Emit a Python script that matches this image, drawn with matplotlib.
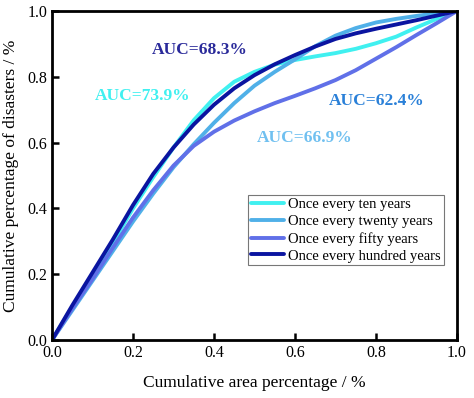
import matplotlib.pyplot as plt

plt.rcParams['font.family'] = ['Liberation Serif', 'DejaVu Serif']

# cumulative area share (x) and cumulative disaster share (y) for each return period
x_vals = [0.0, 0.05, 0.1, 0.15, 0.2, 0.25, 0.3, 0.35, 0.4, 0.45, 0.5, 0.55, 0.6, 0.65, 0.7, 0.75, 0.8, 0.85, 0.9, 0.95, 1.0]
ten_years = [0.0, 0.1, 0.195, 0.295, 0.4, 0.495, 0.585, 0.668, 0.735, 0.785, 0.815, 0.837, 0.851, 0.862, 0.872, 0.885, 0.902, 0.922, 0.950, 0.976, 1.0]
twenty_years = [0.0, 0.09, 0.18, 0.27, 0.36, 0.445, 0.525, 0.595, 0.66, 0.72, 0.773, 0.815, 0.853, 0.893, 0.925, 0.948, 0.965, 0.976, 0.985, 0.993, 1.0]
fifty_years = [0.0, 0.095, 0.185, 0.28, 0.372, 0.455, 0.53, 0.59, 0.633, 0.667, 0.695, 0.72, 0.742, 0.765, 0.79, 0.82, 0.855, 0.89, 0.927, 0.963, 1.0]
hundred_years = [0.0, 0.105, 0.205, 0.305, 0.41, 0.505, 0.585, 0.655, 0.715, 0.765, 0.805, 0.838, 0.866, 0.892, 0.915, 0.932, 0.946, 0.959, 0.972, 0.986, 1.0]

labels = ['Once every ten years', 'Once every twenty years', 'Once every fifty years', 'Once every hundred years']
colors = ['#40F0F0', '#50B0E8', '#6070E8', '#0A14A0']

auc_texts = ['AUC=73.9%', 'AUC=66.9%', 'AUC=62.4%', 'AUC=68.3%']
auc_colors = ['#40F0F0', '#70C0F0', '#2A80D8', '#2A2A9A']
auc_pos = [(0.225, 0.742), (0.625, 0.614), (0.802, 0.726), (0.365, 0.881)]

fig = plt.figure(figsize=(4.74, 3.98), dpi=100)
ax = fig.add_axes([0.1097, 0.1457, 0.8544, 0.8267])

series = [ten_years, twenty_years, fifty_years, hundred_years]
for ys, lab, c in zip(series, labels, colors):
    ax.plot(x_vals, ys, color=c, lw=2.8, label=lab, solid_capstyle='round', solid_joinstyle='round')

for t, c, (px, py) in zip(auc_texts, auc_colors, auc_pos):
    ax.text(px, py, t, color=c, fontsize=12.5, fontweight='bold', ha='center', va='center')

ax.set_xlim(0, 1)
ax.set_ylim(0, 1)
ax.set_xticks([0, 0.2, 0.4, 0.6, 0.8, 1.0])
ax.set_yticks([0, 0.2, 0.4, 0.6, 0.8, 1.0])
ax.xaxis.set_major_formatter(plt.FormatStrFormatter('%.1f'))
ax.yaxis.set_major_formatter(plt.FormatStrFormatter('%.1f'))
ax.tick_params(direction='in', length=5, width=1.8, labelsize=11.5)
for s in ax.spines.values():
    s.set_linewidth(2)

ax.set_xlabel('Cumulative area percentage / %', fontsize=12.5, labelpad=10)
ax.set_ylabel('Cumulative percentage of disasters / %', fontsize=12.5, labelpad=6)

leg = ax.legend(loc='upper left', bbox_to_anchor=(0.484, 0.44), fontsize=10.5,
                frameon=True, fancybox=False, edgecolor='#555555', handlelength=2.25,
                handletextpad=0.3, labelspacing=0.25, borderpad=0.2, borderaxespad=0)
leg.get_frame().set_linewidth(0.8)

plt.savefig('out.png', dpi=100)
